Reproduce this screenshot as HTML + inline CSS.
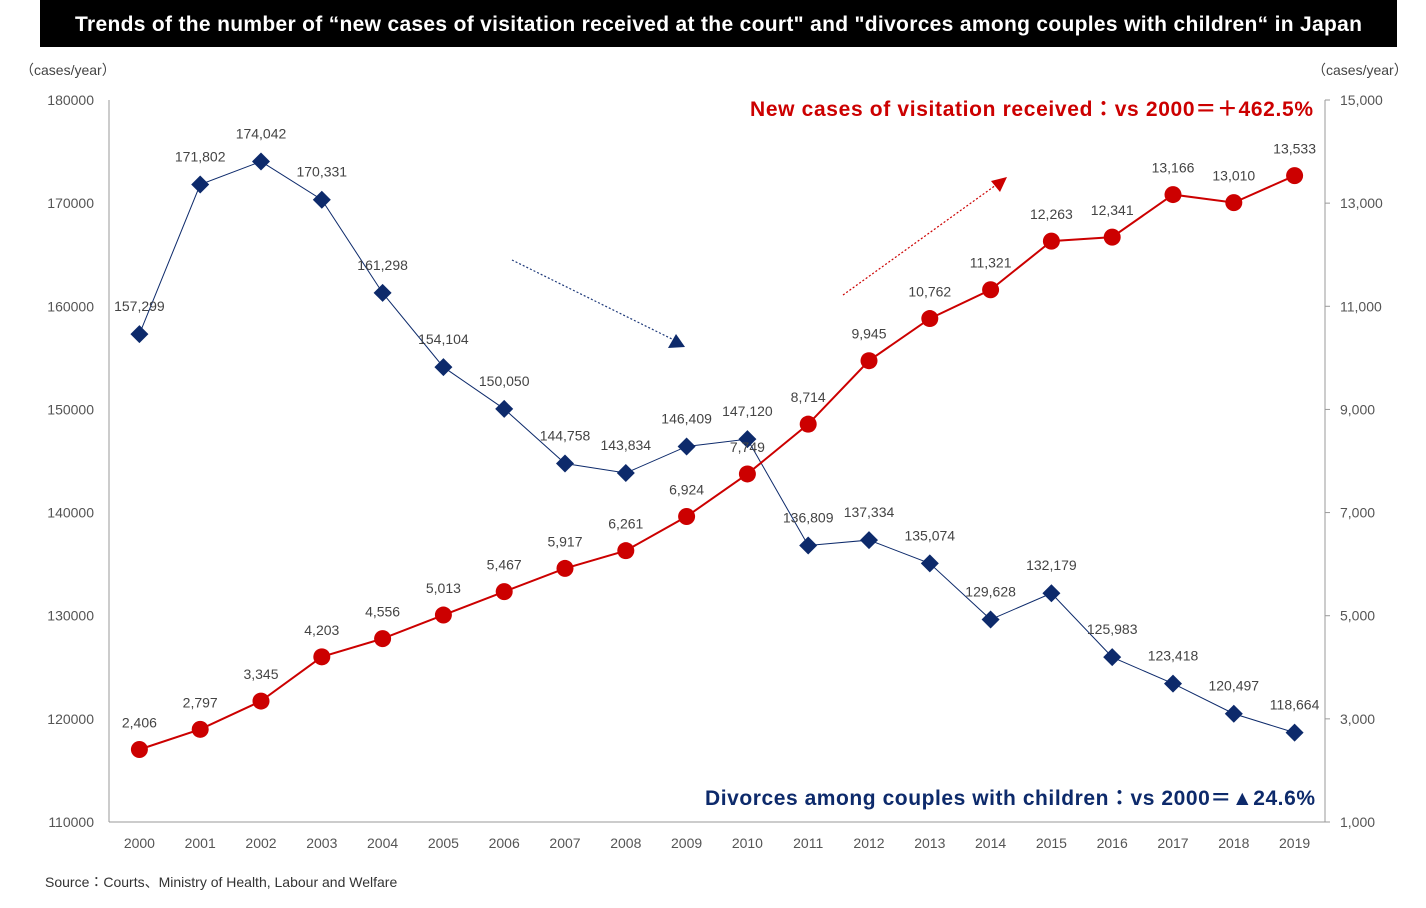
<!DOCTYPE html>
<html><head><meta charset="utf-8"><style>
body{margin:0;background:#fff;width:1426px;height:903px;overflow:hidden;font-family:"Liberation Sans","Noto Sans CJK JP",sans-serif}
</style></head><body>
<svg id="c" width="1426" height="903" xmlns="http://www.w3.org/2000/svg" style="font-family:'Liberation Sans','Noto Sans CJK JP',sans-serif">
<rect x="40" y="0" width="1357" height="47" fill="#000"/>
<text x="75" y="31" fill="#fff" font-size="21" font-weight="bold" textLength="1287" lengthAdjust="spacing">Trends of the number of “new cases of visitation received at the court" and "divorces among couples with children“ in Japan</text>
<text x="20" y="75" font-size="14" fill="#444">（cases/year）</text>
<text x="1312" y="75" font-size="14" fill="#444">（cases/year）</text>
<g id="axes"></g>
<g id="arrows">
<line x1="512" y1="260" x2="676" y2="341" stroke="#1f3a7a" stroke-width="1.2" stroke-dasharray="2,2"/>
<polygon points="685,347 668,348 676,334" fill="#0d2a6b"/>
<line x1="843" y1="295" x2="996" y2="185" stroke="#cc0000" stroke-width="1.2" stroke-dasharray="2,2"/>
<polygon points="1007,177 1000,192 991,181" fill="#cc0000"/>
</g>
<g id="series"></g>
<text x="750" y="116" font-size="21" font-weight="bold" fill="#cc0000" textLength="563" lengthAdjust="spacing">New cases of visitation received：vs 2000＝＋462.5%</text>
<text x="705" y="805" font-size="21" font-weight="bold" fill="#0d2a6b" textLength="610" lengthAdjust="spacing">Divorces among couples with children：vs 2000＝▲24.6%</text>
<text x="45" y="887" font-size="14" fill="#333">Source：Courts、Ministry of Health, Labour and Welfare</text>
</svg>
<script>
const years=[2000,2001,2002,2003,2004,2005,2006,2007,2008,2009,2010,2011,2012,2013,2014,2015,2016,2017,2018,2019];
const divorces=[157299,171802,174042,170331,161298,154104,150050,144758,143834,146409,147120,136809,137334,135074,129628,132179,125983,123418,120497,118664];
const visitation=[2406,2797,3345,4203,4556,5013,5467,5917,6261,6924,7749,8714,9945,10762,11321,12263,12341,13166,13010,13533];
const leftTicks=[110000,120000,130000,140000,150000,160000,170000,180000];
const rightTicks=[1000,3000,5000,7000,9000,11000,13000,15000];
const NS="http://www.w3.org/2000/svg";
const L=109,R=1325,T=100,B=822;
const bw=(R-L)/years.length;
const xs=i=>L+bw*(i+0.5);
const yl=v=>B-(v-110000)/70000*(B-T);
const yr=v=>B-(v-1000)/14000*(B-T);
function mk(tag,attrs,parent,txt){const e=document.createElementNS(NS,tag);for(const k in attrs)e.setAttribute(k,attrs[k]);if(txt!==undefined)e.textContent=txt;parent.appendChild(e);return e;}
const ax=document.getElementById('axes');
let e;
e=mk('line',{x1:L,y1:T,x2:L,y2:B,stroke:'#999'},ax);


e=mk('line',{x1:R,y1:T,x2:R,y2:B,stroke:'#999'},ax);


e=mk('line',{x1:L,y1:B,x2:R,y2:B,stroke:'#999'},ax);


leftTicks.forEach(v=>{
 e=mk('text',{x:94,y:yl(v)+5,'font-size':14,fill:'#555','text-anchor':'end'},ax,String(v));
 
 
});
rightTicks.forEach(v=>{
 e=mk('line',{x1:R,y1:yr(v),x2:R+5,y2:yr(v),stroke:'#999'},ax);
 
 
 e=mk('text',{x:1340,y:yr(v)+5,'font-size':14,fill:'#555'},ax,v.toLocaleString('en-US'));
 
 
});
years.forEach((y,i)=>{
 e=mk('text',{x:xs(i),y:848,'font-size':14,fill:'#555','text-anchor':'middle'},ax,String(y));
 
 
});
const sg=document.getElementById('series');
e=mk('polyline',{points:divorces.map((v,i)=>xs(i)+','+yl(v)).join(' '),fill:'none',stroke:'#0d2a6b','stroke-width':1},sg);


e=mk('polyline',{points:visitation.map((v,i)=>xs(i)+','+yr(v)).join(' '),fill:'none',stroke:'#cc0000','stroke-width':2},sg);


divorces.forEach((v,i)=>{
 const x=xs(i),y=yl(v);
 e=mk('polygon',{points:`${x},${y-9} ${x+9},${y} ${x},${y+9} ${x-9},${y}`,fill:'#0d2a6b'},sg);
 
 
 e=mk('text',{x:x,y:y-23,'font-size':14,fill:'#444','text-anchor':'middle'},sg,v.toLocaleString('en-US'));
 
 
});
visitation.forEach((v,i)=>{
 const x=xs(i),y=yr(v);
 e=mk('circle',{cx:x,cy:y,r:8.5,fill:'#cc0000'},sg);
 
 
 e=mk('text',{x:x,y:y-22,'font-size':14,fill:'#444','text-anchor':'middle'},sg,v.toLocaleString('en-US'));
 
 
});
</script>
</body></html>
